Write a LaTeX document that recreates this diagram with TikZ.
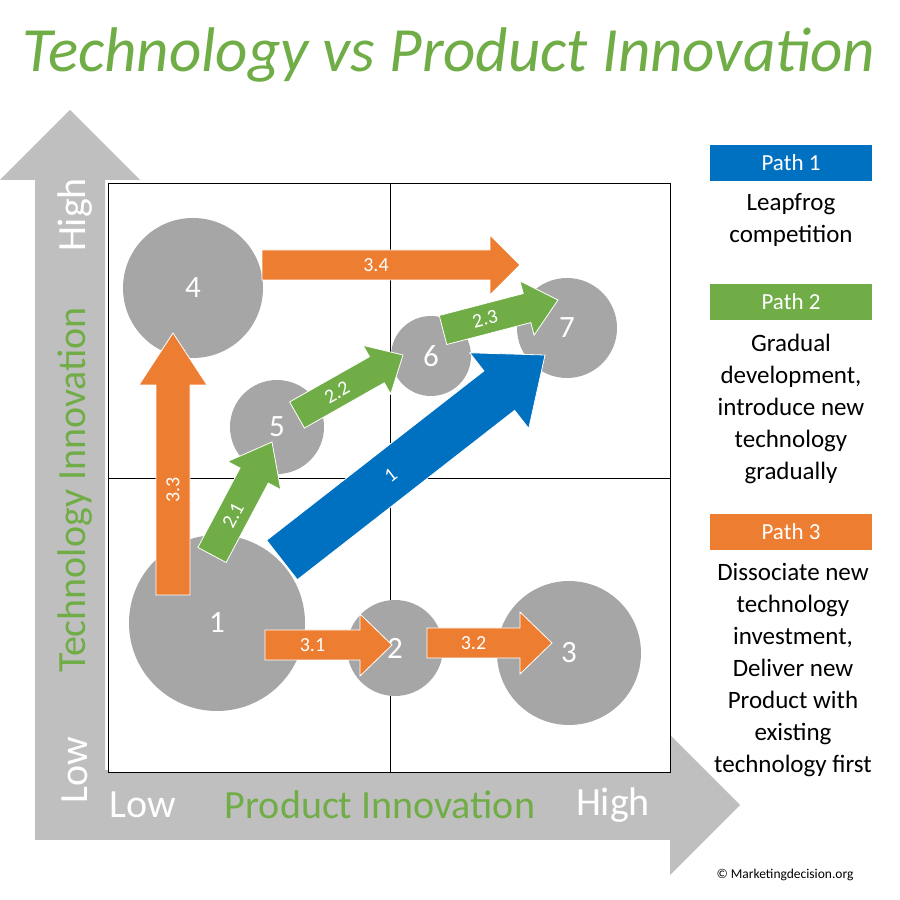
\documentclass[tikz,border=0pt]{standalone}
\usepackage{fontspec}
\setmainfont{Carlito}
\begin{document}
\begin{tikzpicture}[x=1pt,y=1pt,
  circ/.style={circle,fill=circgray,inner sep=0pt,text=white,font=\fontsize{31}{31}\selectfont},
  lgbox/.style={draw=white,minimum width=163pt,minimum height=37pt,inner sep=0pt,text=white,font=\fontsize{23}{23}\selectfont},
  lgtext/.style={align=center,font=\fontsize{25}{32}\selectfont},
  axlab/.style={font=\fontsize{40}{40}\selectfont}]
\definecolor{pblue}{HTML}{0070C0}
\definecolor{pgreen}{HTML}{70AD47}
\definecolor{porange}{HTML}{ED7D31}
\definecolor{axgray}{HTML}{BFBFBF}
\definecolor{circgray}{HTML}{A6A6A6}
\useasboundingbox (0,0) rectangle (900,900);
\fill[white] (0,0) rectangle (900,900);
% title
\node[text=pgreen,font=\fontsize{63}{63}\selectfont\itshape] (title) at (449,845) {Technology vs Product Innovation};
% axes
\fill[axgray] (35,60) -- (35,720) -- (0,720) -- (70,790) -- (140,720) -- (105,720) -- (105,60) -- cycle;
\fill[axgray] (35,60) -- (670,60) -- (670,25) -- (740,95) -- (670,165) -- (670,130) -- (35,130) -- cycle;
% box
\draw[fill=white,line width=0.6pt] (108,128) rectangle (670,717);
\draw[line width=0.6pt] (390,128) -- (390,717) (108,422) -- (670,422);
% axis labels
\node[axlab,text=white,rotate=90] (vh) at (75,685) {High};
\node[axlab,text=pgreen,rotate=90] (vt) at (75,410) {Technology Innovation};
\node[axlab,text=white,rotate=90] (vl) at (75,130) {Low};
\node[axlab,text=white] (hl) at (143,95) {Low};
\node[axlab,text=pgreen] (ht) at (380,95) {Product Innovation};
\node[axlab,text=white] (hh) at (613,95) {High};
% circles
\node[circ,minimum size=176pt] (c1) at (217,277) {1};
\node[circ,minimum size=96pt] (c2) at (395,252) {2};
\node[circ,minimum size=144pt] (c3) at (569,247) {3};
\node[circ,minimum size=140pt] (c4) at (193,612) {4};
\node[circ,minimum size=94pt] (c5) at (277,473) {5};
\node[circ,minimum size=80pt] (c6) at (431,544) {6};
\node[circ,minimum size=100pt] (c7) at (567,572) {7};
% block arrow macro: x1 y1 x2 y2 halfshaft halfhead headlen color label
\newcommand\barrow[9]{%
  \pgfmathsetmacro\ang{atan2(#4-#2,#3-#1)}%
  \pgfmathsetmacro\len{veclen(#3-#1,#4-#2)}%
  \pgfmathsetmacro\hb{\len-#7}%
  \begin{scope}[shift={(#1,#2)},rotate=\ang]
  \draw[fill=#8,draw=white,line width=0.8pt] (0,-#5) -- (\hb,-#5) -- (\hb,-#6) -- (\len,0) -- (\hb,#6) -- (\hb,#5) -- (0,#5) -- cycle;
  \node[text=white,rotate=\ang,font=\fontsize{20}{20}\selectfont] at (\hb/2,0) {#9};
  \end{scope}}
\barrow{173}{305}{173}{567}{17}{34}{52}{porange}{3.3}
\barrow{262}{635}{520}{635}{15}{30}{30}{porange}{3.4}
\barrow{212}{345}{272}{458}{16}{30}{38}{pgreen}{2.1}
\barrow{297}{485}{403}{545}{15}{28}{30}{pgreen}{2.2}
\barrow{443}{570}{558}{600}{15}{28}{32}{pgreen}{2.3}
\barrow{282}{340}{545}{545}{25}{48}{58}{pblue}{1}
\barrow{265}{255}{392}{255}{15}{31}{32}{porange}{3.1}
\barrow{427}{257}{552}{257}{15}{31}{32}{porange}{3.2}
% legend
\node[lgbox,fill=pblue] (p1) at (791,737) {Path 1};
\node[lgtext] (t1) at (791,680) {Leapfrog\\competition};
\node[lgbox,fill=pgreen] (p2) at (791,598) {Path 2};
\node[lgtext] (t2) at (791,491) {Gradual\\development,\\introduce new\\technology\\gradually};
\node[lgbox,fill=porange] (p3) at (791,368) {Path 3};
\node[lgtext] (t3) at (793,230) {Dissociate new\\technology\\investment,\\Deliver new\\Product with\\existing\\technology first};
\node[font=\fontsize{13.5}{13.5}\selectfont] (copy) at (785,25) {© Marketingdecision.org};
\end{tikzpicture}
\end{document}
